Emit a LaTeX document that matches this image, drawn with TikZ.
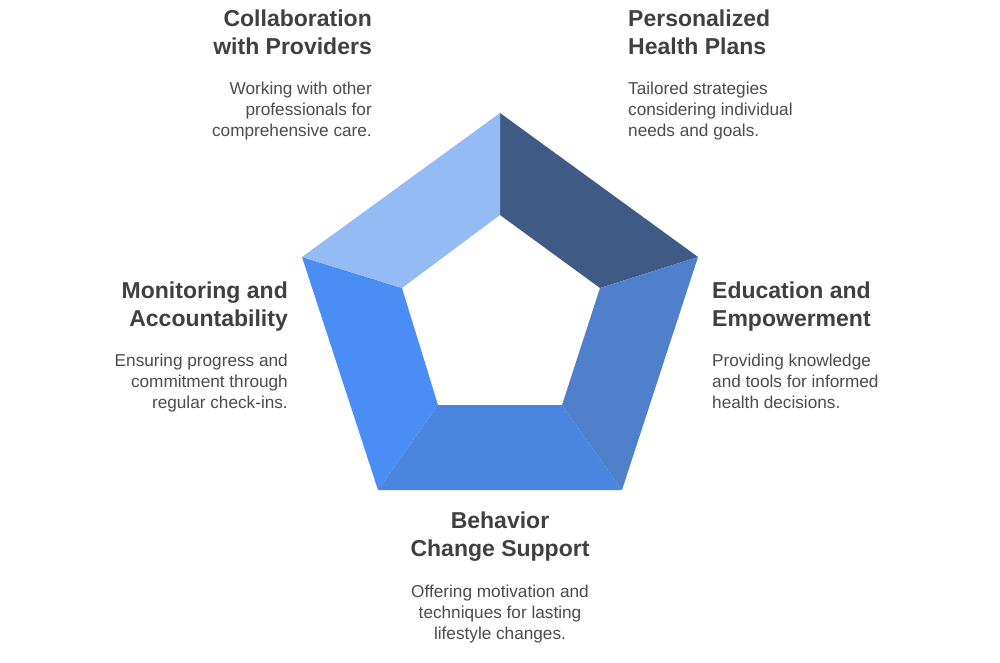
\documentclass[tikz,border=0pt]{standalone}
\usepackage{fontspec}
\setmainfont{Liberation Sans}
\begin{document}
\begin{tikzpicture}[x=1pt,y=-1pt,
 ttl/.style={inner sep=0pt,font=\fontsize{23}{28}\selectfont\bfseries,text=black!75},
 bod/.style={inner sep=0pt,font=\fontsize{17.2}{21}\selectfont,text=black!70}]
\useasboundingbox[fill=white] (0,0) rectangle (1000,662);
\coordinate (A) at (500,113); \coordinate (B) at (698,257); \coordinate (C) at (622,490);
\coordinate (D) at (378,490); \coordinate (E) at (302,257);
\coordinate (a) at (500,215); \coordinate (b) at (600,288); \coordinate (c) at (562,405);
\coordinate (d) at (438,405); \coordinate (e) at (402,288);
\fill[fill={rgb,255:red,63;green,90;blue,133}] (A)--(B)--(b)--(a)--cycle;
\fill[fill={rgb,255:red,80;green,128;blue,204}] (B)--(C)--(c)--(b)--cycle;
\fill[fill={rgb,255:red,74;green,134;blue,224}] (C)--(D)--(d)--(c)--cycle;
\fill[fill={rgb,255:red,74;green,142;blue,245}] (D)--(E)--(e)--(d)--cycle;
\fill[fill={rgb,255:red,149;green,187;blue,245}] (E)--(A)--(a)--(e)--cycle;
\node[ttl,align=right,anchor=north east] (t1) at (372,10) {Collaboration\\with Providers};
\node[bod,align=right,anchor=north east] (b1) at (372,82) {Working with other\\professionals for\\comprehensive care.};
\node[ttl,align=left,anchor=north west] (t2) at (628,10) {Personalized\\Health Plans};
\node[bod,align=left,anchor=north west] (b2) at (628,82) {Tailored strategies\\considering individual\\needs and goals.};
\node[ttl,align=left,anchor=north west] (t3) at (712,282) {Education and\\Empowerment};
\node[bod,align=left,anchor=north west] (b3) at (712,354) {Providing knowledge\\and tools for informed\\health decisions.};
\node[ttl,align=right,anchor=north east] (t4) at (288,282) {Monitoring and\\Accountability};
\node[bod,align=right,anchor=north east] (b4) at (288,354) {Ensuring progress and\\commitment through\\regular check-ins.};
\node[ttl,align=center,anchor=north] (t5) at (500,512) {Behavior\\Change Support};
\node[bod,align=center,anchor=north] (b5) at (500,585) {Offering motivation and\\techniques for lasting\\lifestyle changes.};
\end{tikzpicture}
\end{document}
